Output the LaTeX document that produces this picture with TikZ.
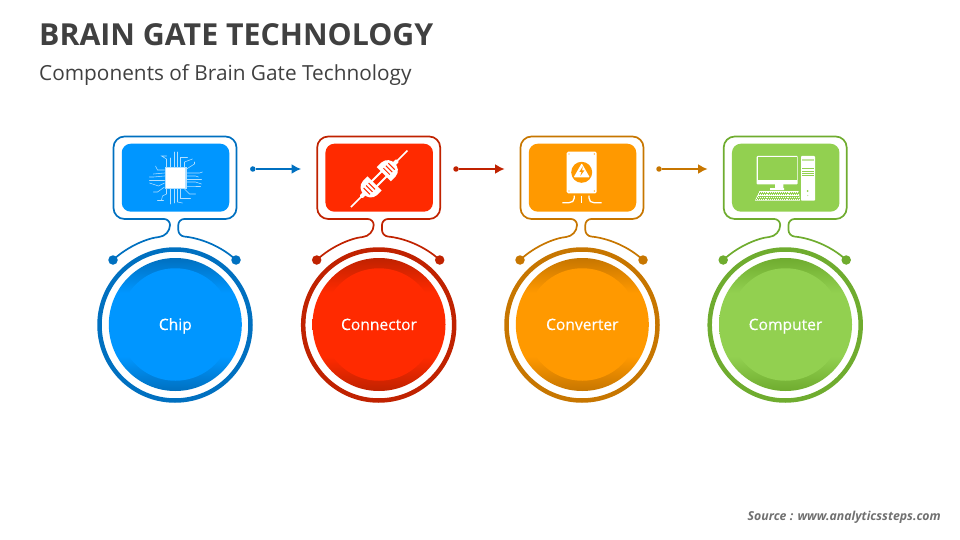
\documentclass[tikz,border=0pt]{standalone}
\usepackage{fontspec}
\setmainfont{Open Sans}
\newfontfamily\labelfont[FakeBold=0.35]{Open Sans}
\usepackage{tikz}
\usetikzlibrary{arrows.meta}
\definecolor{blueA}{HTML}{0096FF}
\definecolor{blueB}{HTML}{0070C0}
\definecolor{redA}{HTML}{FF2A00}
\definecolor{redB}{HTML}{C02200}
\definecolor{orangeA}{HTML}{FF9900}
\definecolor{orangeB}{HTML}{C77600}
\definecolor{greenA}{HTML}{92D050}
\definecolor{greenB}{HTML}{6FAC2F}
\definecolor{titlegray}{HTML}{404040}
\pgfdeclareverticalshading{blueband}{100bp}{color(0bp)=(blueB); color(25bp)=(blueB); color(38bp)=(blueA); color(62bp)=(blueA); color(75bp)=(blueB); color(100bp)=(blueB)}
\pgfdeclareverticalshading{redband}{100bp}{color(0bp)=(redB); color(25bp)=(redB); color(38bp)=(redA); color(62bp)=(redA); color(75bp)=(redB); color(100bp)=(redB)}
\pgfdeclareverticalshading{orangeband}{100bp}{color(0bp)=(orangeB); color(25bp)=(orangeB); color(38bp)=(orangeA); color(62bp)=(orangeA); color(75bp)=(orangeB); color(100bp)=(orangeB)}
\pgfdeclareverticalshading{greenband}{100bp}{color(0bp)=(greenB); color(25bp)=(greenB); color(38bp)=(greenA); color(62bp)=(greenA); color(75bp)=(greenB); color(100bp)=(greenB)}
\tikzset{
	frameline/.style={line width=1.7pt,rounded corners=11pt},
	ring/.style={circle,line width=4.5pt,minimum size=151pt,inner sep=0pt},
	disk/.style={circle,minimum size=133pt,inner sep=0pt,shade},
	face/.style={circle,minimum size=112.5pt,inner sep=0pt,text=white,text height=14pt,text depth=3pt,font=\labelfont\fontsize{15.6}{18}\selectfont},
	iconbox/.style={rectangle,rounded corners=9pt,minimum width=107.5pt,minimum height=68pt,inner sep=0pt},
	enddot/.style={circle,minimum size=9.5pt,inner sep=0pt},
	flowdot/.style={circle,minimum size=5.5pt,inner sep=0pt},
	flow/.style={-{Latex[length=9.5pt,width=10pt]},line width=1.5pt},
	trace/.style={line width=0.55pt,color=white!70!blueA,line cap=round},
}
\begin{document}
\begin{tikzpicture}[x=1pt,y=-1pt]
	\useasboundingbox (0,0) rectangle (960,540);

	% heading
	\node[anchor=base west,inner sep=0pt,text=titlegray,font=\fontsize{30.3}{36}\selectfont\bfseries] (title) at (39,46) {BRAIN GATE TECHNOLOGY};
	\node[anchor=base west,inner sep=0pt,text=titlegray,font=\fontsize{20.8}{25}\selectfont] (subtitle) at (39,81) {Components of Brain Gate Technology};
	\node[anchor=base east,inner sep=0pt,text=titlegray!75,font=\fontsize{12.3}{14}\selectfont\bfseries\itshape] (source) at (941,520) {Source : www.analyticssteps.com};

	% chip
	\node[enddot,fill=blueB] (chipL) at (113,260) {};
	\node[enddot,fill=blueB] (chipR) at (236,260) {};
	\draw[frameline,blueB] (chipL.center) .. controls (128,246) and (148,238) .. (170,236) [rounded corners=6pt] -- (170,219) [rounded corners=11pt] -- (113.5,219) -- (113.5,136.5) -- (236.5,136.5) -- (236.5,219) [rounded corners=6pt] -- (178.3,219) -- (178.3,236) [sharp corners] .. controls (200,238) and (221,246) .. (chipR.center);
	\node[ring,draw=blueB] (chipring) at (175,325) {};
	\node[disk,shading=blueband] (chipdisk) at (175.3,324.5) {};
	\node[face,fill=blueA] (chip) at (175.3,324.5) {Chip};
	\node[iconbox,fill=blueA] (chipbox) at (175.5,177.7) {};
	\begin{scope}[shift={(175.5,178)}]
		\fill[white!70!blueA] (-11,-11) rectangle (11,11);
		\fill[white] (-9.5,-9.5) rectangle (9.5,9.5);
		\draw[trace] (-9,-11)--(-9,-19)--(-14,-22)--(-9,-22);
		\draw[trace] (-5,-11)--(-5,-20);
		\draw[trace] (-1,-11)--(-1,-26);
		\draw[trace] (2,-11)--(2,-26);
		\draw[trace] (5,-11)--(5,-21)--(12,-21);
		\draw[trace] (9,-11)--(9,-16)--(17,-19);
		\draw[trace] (11,-9)--(19,-14)--(19,-16);
		\draw[trace] (11,-5)--(24,-5)--(27,-6);
		\draw[trace] (11,-2)--(20,-2)--(23,-1);
		\draw[trace] (11,1)--(26,1);
		\draw[trace] (11,4)--(20,4)--(26,6);
		\draw[trace] (11,8)--(16,8)--(25,8);
		\draw[trace] (9,11)--(14,16)--(20,16);
		\draw[trace] (5,11)--(5,20)--(15,20);
		\draw[trace] (2,11)--(2,24)--(7,25);
		\draw[trace] (-1,11)--(-1,25);
		\draw[trace] (-5,11)--(-5,26);
		\draw[trace] (-9,11)--(-9,16)--(-13,18)--(-14,22);
		\draw[trace] (-12,22)--(-18,22);
		\draw[trace] (-11,9)--(-18,14)--(-22,14);
		\draw[trace] (-11,5)--(-17,8)--(-26,5);
		\draw[trace] (-11,2)--(-26,2);
		\draw[trace] (-11,-2)--(-22,-1)--(-26,-1);
		\draw[trace] (-11,-5)--(-22,-4);
		\draw[trace] (-11,-8)--(-18,-8)--(-20,-12);
	\end{scope}

	% connector
	\begin{scope}[xshift=203.7pt]
		\node[enddot,fill=redB] (connL) at (113,260) {};
		\node[enddot,fill=redB] (connR) at (236,260) {};
		\draw[frameline,redB] (connL.center) .. controls (128,246) and (148,238) .. (170,236) [rounded corners=6pt] -- (170,219) [rounded corners=11pt] -- (113.5,219) -- (113.5,136.5) -- (236.5,136.5) -- (236.5,219) [rounded corners=6pt] -- (178.3,219) -- (178.3,236) [sharp corners] .. controls (200,238) and (221,246) .. (connR.center);
		\node[ring,draw=redB] (connring) at (175,325) {};
		\node[disk,shading=redband] (conndisk) at (175.3,324.5) {};
		\node[face,fill=redA] (conn) at (175.3,324.5) {Connector};
		\node[iconbox,fill=redA] (connbox) at (175.5,177.7) {};
	\end{scope}
	\begin{scope}[shift={(379.2,178.8)},rotate=45]
		\draw[white,line width=1.7pt] (-40,0)--(-20,0) (20,0)--(40,0);
		\draw[white,line width=2pt] (-8,-3.5)--(8,-3.5) (-8,3.5)--(8,3.5);
		\fill[white,rounded corners=1pt] (-26,-2) rectangle (-20,2) (20,-2) rectangle (26,2);
		\fill[white] (6.5,-10) -- (6.5,10) -- (13,10) .. controls (25,9) and (25,-9) .. (13,-10) -- cycle;
		\fill[white] (-6.5,-10) -- (-6.5,10) -- (-13,10) .. controls (-25,9) and (-25,-9) .. (-13,-10) -- cycle;
		\draw[redA,line width=1pt] (10.5,-4.5)--(10.5,4.5) (14,-4.5)--(14,4.5) (17.5,-4.5)--(17.5,4.5);
		\draw[redA,line width=1pt] (-10.5,-4.5)--(-10.5,4.5) (-14,-4.5)--(-14,4.5) (-17.5,-4.5)--(-17.5,4.5);
	\end{scope}

	% converter
	\begin{scope}[xshift=407pt]
		\node[enddot,fill=orangeB] (convL) at (113,260) {};
		\node[enddot,fill=orangeB] (convR) at (236,260) {};
		\draw[frameline,orangeB] (convL.center) .. controls (128,246) and (148,238) .. (170,236) [rounded corners=6pt] -- (170,219) [rounded corners=11pt] -- (113.5,219) -- (113.5,136.5) -- (236.5,136.5) -- (236.5,219) [rounded corners=6pt] -- (178.3,219) -- (178.3,236) [sharp corners] .. controls (200,238) and (221,246) .. (convR.center);
		\node[ring,draw=orangeB] (convring) at (175,325) {};
		\node[disk,shading=orangeband] (convdisk) at (175.3,324.5) {};
		\node[face,fill=orangeA] (conv) at (175.3,324.5) {Converter};
		\node[iconbox,fill=orangeA] (convbox) at (175.5,177.7) {};
	\end{scope}
	\fill[white,rounded corners=1.5pt] (566.7,151.7) rectangle (596.7,193.3);
	\fill[orangeA] (569,154) circle (0.7pt) (594.4,154) circle (0.7pt) (569,191) circle (0.7pt) (594.4,191) circle (0.7pt);
	\fill[orangeA] (581.7,172.3) circle (10.5pt);
	\fill[white,rounded corners=0.8pt] (581.7,163.3) -- (589.7,177.3) -- (573.7,177.3) -- cycle;
	\fill[orangeA] (582.8,166.5) -- (579.3,172) -- (581.5,172) -- (580.3,176) -- (584.3,170.5) -- (582,170.5) -- cycle;
	\draw[white,line width=1.3pt] (581.7,195.5) -- (581.7,203.3);
	\draw[white,line width=1.3pt] (574.3,195.5) -- (574.3,198) .. controls (574.3,201) and (572,202.7) .. (569,202.7) -- (562.3,202.7);
	\draw[white,line width=1.3pt] (589,195.5) -- (589,198) .. controls (589,201) and (591,202.7) .. (594,202.7) -- (601.7,202.7);

	% computer
	\begin{scope}[xshift=610.2pt]
		\node[enddot,fill=greenB] (compL) at (113,260) {};
		\node[enddot,fill=greenB] (compR) at (236,260) {};
		\draw[frameline,greenB] (compL.center) .. controls (128,246) and (148,238) .. (170,236) [rounded corners=6pt] -- (170,219) [rounded corners=11pt] -- (113.5,219) -- (113.5,136.5) -- (236.5,136.5) -- (236.5,219) [rounded corners=6pt] -- (178.3,219) -- (178.3,236) [sharp corners] .. controls (200,238) and (221,246) .. (compR.center);
		\node[ring,draw=greenB] (compring) at (175,325) {};
		\node[disk,shading=greenband] (compdisk) at (175.3,324.5) {};
		\node[face,fill=greenA] (comp) at (175.3,324.5) {Computer};
		\node[iconbox,fill=greenA] (compbox) at (175.5,177.7) {};
	\end{scope}
	\fill[white,rounded corners=0.8pt] (756.7,156) rectangle (797.7,184.3);
	\fill[greenA] (757.8,157.2) rectangle (796.6,180.5);
	\fill[white] (775,184) rectangle (783.3,188.5) (770,188.2) rectangle (784,190);
	\fill[white] (759.5,191) -- (798.5,191) -- (800,200.7) -- (755,200.7) -- cycle;
	\draw[greenA,line width=0.5pt] (758.5,193.4) -- (798.7,193.4) (757.8,195.8) -- (799,195.8) (757,198.2) -- (799.5,198.2);
	\draw[greenA,line width=0.5pt,dash pattern=on 0.5pt off 1.6pt] (758,192.2) -- (799,192.2) (757,194.6) -- (799,194.6) (757,197) -- (799,197) (756,199.4) -- (799,199.4);
	\fill[white,rounded corners=0.8pt] (801,156) rectangle (815,200.7);
	\fill[greenA!55!white] (802.3,159) rectangle (813.7,161);
	\draw[greenA,line width=0.6pt] (802.3,168.5) -- (813.7,168.5) (802.3,171) -- (813.7,171) (802.3,173.5) -- (813.7,173.5) (802.3,175.5) -- (813.7,175.5);
	\fill[greenA] (807.7,191) circle (1pt);
	\fill[greenA!60!white] (807.7,195.5) circle (0.6pt);

	% arrows
	\node[flowdot,fill=blueB] (flowA) at (252.8,169) {};
	\coordinate (flowAend) at (301,169);
	\draw[flow,blueB] (flowA) -- (flowAend);
	\node[flowdot,fill=redB] (flowB) at (456,169) {};
	\coordinate (flowBend) at (504.5,169);
	\draw[flow,redB] (flowB) -- (flowBend);
	\node[flowdot,fill=orangeB] (flowC) at (659,169) {};
	\coordinate (flowCend) at (707.5,169);
	\draw[flow,orangeB] (flowC) -- (flowCend);
\end{tikzpicture}
\end{document}
